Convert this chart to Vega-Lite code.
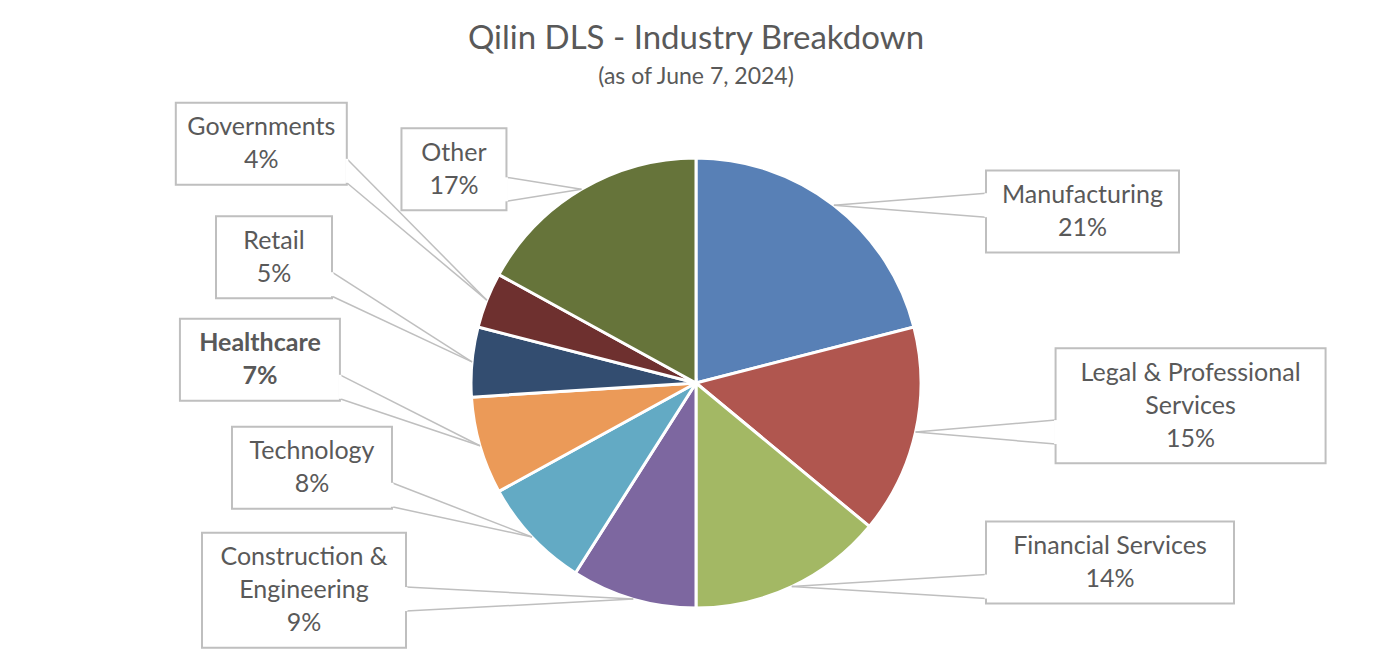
{
  "$schema": "https://vega.github.io/schema/vega-lite/v6.json",
  "width": 1392,
  "height": 668,
  "autosize": {"type": "fit", "contains": "padding"},
  "padding": {"top": 23, "left": 0, "right": 0, "bottom": 0},
  "background": "white",
  "config": {"view": {"stroke": null}, "font": "Lato"},
  "title": {
    "text": "Qilin DLS - Industry Breakdown",
    "subtitle": "(as of June 7, 2024)",
    "font": "Lato",
    "subtitleFont": "Lato",
    "fontSize": 33,
    "subtitleFontSize": 23,
    "fontWeight": "normal",
    "color": "#595959",
    "subtitleColor": "#595959",
    "anchor": "middle",
    "offset": 9,
    "subtitlePadding": 10
  },
  "data": {
    "values": [
      {"industry": "Manufacturing", "share": 21, "label": "Manufacturing"},
      {"industry": "Legal & Professional Services", "share": 15, "label": "Legal & Professional\nServices"},
      {"industry": "Financial Services", "share": 14, "label": "Financial Services"},
      {"industry": "Construction & Engineering", "share": 9, "label": "Construction &\nEngineering"},
      {"industry": "Technology", "share": 8, "label": "Technology"},
      {"industry": "Healthcare", "share": 7, "label": "Healthcare"},
      {"industry": "Retail", "share": 5, "label": "Retail"},
      {"industry": "Governments", "share": 4, "label": "Governments"},
      {"industry": "Other", "share": 17, "label": "Other"}
    ]
  },
  "transform": [
    {"window": [{"op": "row_number", "as": "idx"}]},
    {"window": [{"op": "sum", "field": "share", "as": "cum"}], "sort": [{"field": "idx", "order": "ascending"}], "frame": [null, 0]},
    {"joinaggregate": [{"op": "sum", "field": "share", "as": "total"}]},
    {"calculate": "2*PI*(datum.cum - datum.share/2)/datum.total", "as": "mid"},
    {"calculate": "datum.mid*180/PI", "as": "deg"},
    {"calculate": "225*sin(datum.mid)", "as": "ax"},
    {"calculate": "-225*cos(datum.mid)", "as": "ay"},
    {"calculate": "sin(datum.mid) >= 0 ? 1 : -1", "as": "side"},
    {"calculate": "cos(datum.mid) > 0.8", "as": "top"},
    {"calculate": "split(datum.label, '\\n')", "as": "parts"},
    {"calculate": "max(length(datum.parts[0]), length(datum.parts) > 1 ? length(datum.parts[1]) : 0)", "as": "maxlen"},
    {"calculate": "length(datum.parts) + 1", "as": "nl"},
    {"calculate": "11*datum.maxlen + 50", "as": "bw"},
    {"calculate": "33*datum.nl + 16", "as": "bh"},
    {"calculate": "datum.top ? abs(datum.ax) + 75 : max(abs(datum.ax) + 140, 290)", "as": "inner"},
    {"calculate": "datum.side*(datum.inner + datum.bw/2)", "as": "bx"},
    {"calculate": "datum.top ? datum.ay - 20 : (datum.side > 0 ? 3*(datum.deg - 95) : -4*(datum.deg - 248) - 3*max(0, datum.deg - 270))", "as": "by"},
    {"calculate": "datum.by - (datum.nl - 1)*33/2", "as": "ty"},
    {"calculate": "datum.bx - datum.bw/2", "as": "bx1"},
    {"calculate": "datum.bx + datum.bw/2", "as": "bx2"},
    {"calculate": "datum.by - datum.bh/2", "as": "by1"},
    {"calculate": "datum.by + datum.bh/2", "as": "by2"},
    {"calculate": "datum.side*datum.inner", "as": "cx"},
    {"calculate": "clamp(datum.ay, datum.by1 + 14, datum.by2 - 14)", "as": "cy"},
    {"calculate": "datum.cy - 12", "as": "cy1"},
    {"calculate": "datum.cy + 12", "as": "cy2"},
    {"calculate": "datum.label + '\\n' + datum.share + '%'", "as": "txt"}
  ],
  "layer": [
    {
      "mark": {"type": "arc", "outerRadius": 225, "stroke": "white", "strokeWidth": 3},
      "encoding": {
        "theta": {"field": "share", "type": "quantitative", "stack": true},
        "order": {"field": "idx", "type": "quantitative"},
        "color": {
          "field": "industry",
          "type": "nominal",
          "legend": null,
          "scale": {
            "domain": ["Manufacturing", "Legal & Professional Services", "Financial Services", "Construction & Engineering", "Technology", "Healthcare", "Retail", "Governments", "Other"],
            "range": ["#5880B6", "#B0564F", "#A3B864", "#7D67A0", "#63AAC4", "#EB9A58", "#334D70", "#6E302F", "#66743A"]
          }
        }
      }
    },
    {
      "mark": {"type": "rule", "stroke": "#BFBFBF", "strokeWidth": 1.5},
      "encoding": {
        "x": {"field": "ax", "type": "quantitative", "scale": {"domain": [-696, 696], "nice": false, "zero": false}, "axis": null},
        "y": {"field": "ay", "type": "quantitative", "scale": {"domain": [-285, 285], "nice": false, "zero": false, "reverse": true}, "axis": null},
        "x2": {"field": "cx"},
        "y2": {"field": "cy1"}
      }
    },
    {
      "mark": {"type": "rule", "stroke": "#BFBFBF", "strokeWidth": 1.5},
      "encoding": {
        "x": {"field": "ax", "type": "quantitative", "axis": null},
        "y": {"field": "ay", "type": "quantitative", "axis": null},
        "x2": {"field": "cx"},
        "y2": {"field": "cy2"}
      }
    },
    {
      "mark": {"type": "rect", "fill": "white", "stroke": "#BFBFBF", "strokeWidth": 2},
      "encoding": {
        "x": {"field": "bx1", "type": "quantitative", "axis": null},
        "x2": {"field": "bx2"},
        "y": {"field": "by1", "type": "quantitative", "axis": null},
        "y2": {"field": "by2"}
      }
    },
    {
      "mark": {"type": "rule", "stroke": "white", "strokeWidth": 3},
      "encoding": {
        "x": {"field": "cx", "type": "quantitative", "axis": null},
        "y": {"field": "cy1", "type": "quantitative", "axis": null},
        "y2": {"field": "cy2"}
      }
    },
    {
      "transform": [{"filter": "datum.industry !== 'Healthcare'"}],
      "mark": {"type": "text", "font": "Lato", "fontSize": 25, "color": "#595959", "align": "center", "baseline": "middle", "lineBreak": "\n", "lineHeight": 33},
      "encoding": {
        "x": {"field": "bx", "type": "quantitative", "axis": null},
        "y": {"field": "ty", "type": "quantitative", "axis": null},
        "text": {"field": "txt", "type": "nominal"}
      }
    },
    {
      "transform": [{"filter": "datum.industry === 'Healthcare'"}],
      "mark": {"type": "text", "font": "Lato", "fontSize": 25, "fontWeight": "bold", "color": "#595959", "align": "center", "baseline": "middle", "lineBreak": "\n", "lineHeight": 33},
      "encoding": {
        "x": {"field": "bx", "type": "quantitative", "axis": null},
        "y": {"field": "ty", "type": "quantitative", "axis": null},
        "text": {"field": "txt", "type": "nominal"}
      }
    }
  ]
}
